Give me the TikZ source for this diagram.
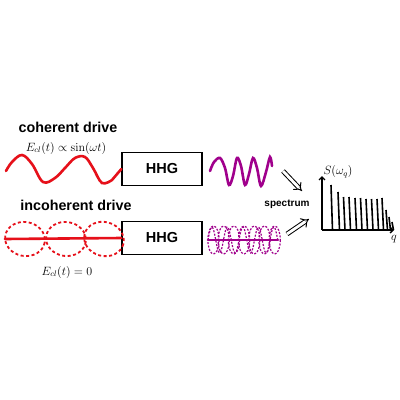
\documentclass[tikz,border=0pt]{standalone}
\usepackage[no-math]{fontspec}
\newfontfamily\arialfont{Liberation Sans}
\usetikzlibrary{arrows.meta}
\definecolor{dred}{RGB}{230,16,26}
\definecolor{dpur}{RGB}{160,0,140}
\tikzset{
  hhgbox/.style={draw, line width=1.3pt, minimum width=80pt, minimum height=33pt, inner sep=0pt, font=\arialfont\fontsize{14.5}{14.5}\selectfont\bfseries},
  title/.style={font=\arialfont\fontsize{14.3}{14.3}\selectfont\bfseries},
  formula/.style={font=\fontsize{12}{12}\selectfont},
  redwave/.style={dred, line width=2.6pt, line cap=round},
  purwave/.style={dpur, line width=2.6pt, line cap=round},
  dashy/.style={dash pattern=on 3pt off 2.5pt, line width=1.8pt},
  dbl/.style={double, double distance=2.8pt, line width=1pt, -{Implies[length=6pt]}},
  axis/.style={line width=1.4pt, -{Straight Barb[length=3pt,width=6pt]}},
  specline/.style={line width=1.6pt}
}
\begin{document}
\begin{tikzpicture}[x=1pt,y=-1pt]
\useasboundingbox[fill=white] (0,0) rectangle (400,400);
% labels
\node[title] (t1) at (68,127) {coherent drive};
\node[title] (t2) at (76,205) {incoherent drive};
\node[formula] (f1) at (66,148) {$E_{cl}(t)\propto\sin(\omega t)$};
\node[formula] (f2) at (67,272) {$E_{cl}(t)=0$};
% boxes
\node[hhgbox] (h1) at (162,169) {HHG};
\node[hhgbox] (h2) at (162,238) {HHG};
% coherent red wave
\draw[redwave] plot[smooth, tension=0.6] coordinates {(6,171) (12,162) (22,155) (32,164) (43,182) (55,178) (65,168) (75,158) (85,157) (93,168) (102,183) (112,180)} -- (h1.west);
% incoherent red
\draw[redwave] (5,239) -- (h2.west);
\foreach \cx/\rot in {25/-10, 66/-8, 104/-15}{
  \draw[dred, dashy] (\cx,239) ellipse[x radius=20, y radius=17, rotate=\rot];
}
% purple coherent output
\draw[purwave] plot[smooth, tension=0.55] coordinates {(210,171) (214,162) (220,158) (225,168) (229,185) (233,176) (237,158) (241,166) (245,185) (249,174) (253,158) (257,168) (261,186) (266,172) (270,157) (272,166)};
% purple incoherent output
\draw[purwave] (208,240) -- (278,240);
\foreach \i in {0,...,6}{
  \draw[dpur, dash pattern=on 2pt off 1.5pt, line width=1.2pt] ({213.5+10.2*\i},240) ellipse[x radius=5.6, y radius=14];
}
\draw[dpur, dash pattern=on 2pt off 1.5pt, line width=1.2pt] plot[smooth, domain=208:278, samples=60] (\x,{240-13*sin(2*pi*(\x-208)/15.5 r)});
% arrows
\coordinate (a1s) at (283,171);
\coordinate (a1e) at (302,191);
\coordinate (a2s) at (287,234);
\coordinate (a2e) at (309,219);
\draw[dbl] (a1s) -- (a1e);
\draw[dbl] (a2s) -- (a2e);
\node[font=\arialfont\fontsize{10}{10}\selectfont\bfseries] (sp) at (287,204) {spectrum};
% spectrum axes
\coordinate (o) at (322,230);
\coordinate (ytop) at (322,176);
\coordinate (xend) at (394,230);
\draw[axis] (o) -- (ytop);
\draw[axis] (o) -- (xend);
\node[formula] (sl) at (338,172) {$S(\omega_q)$};
\node[formula] (ql) at (394,239) {$q$};
\foreach \x/\y in {331/185, 338/192, 343.5/197, 349/197, 355/198, 360.5/198, 366/199, 371.5/199, 377/199, 382/198, 386/210, 389/217, 392/222}{
  \draw[specline] (\x,\y) -- ({\x+1.5},230);
}
\end{tikzpicture}
\end{document}
